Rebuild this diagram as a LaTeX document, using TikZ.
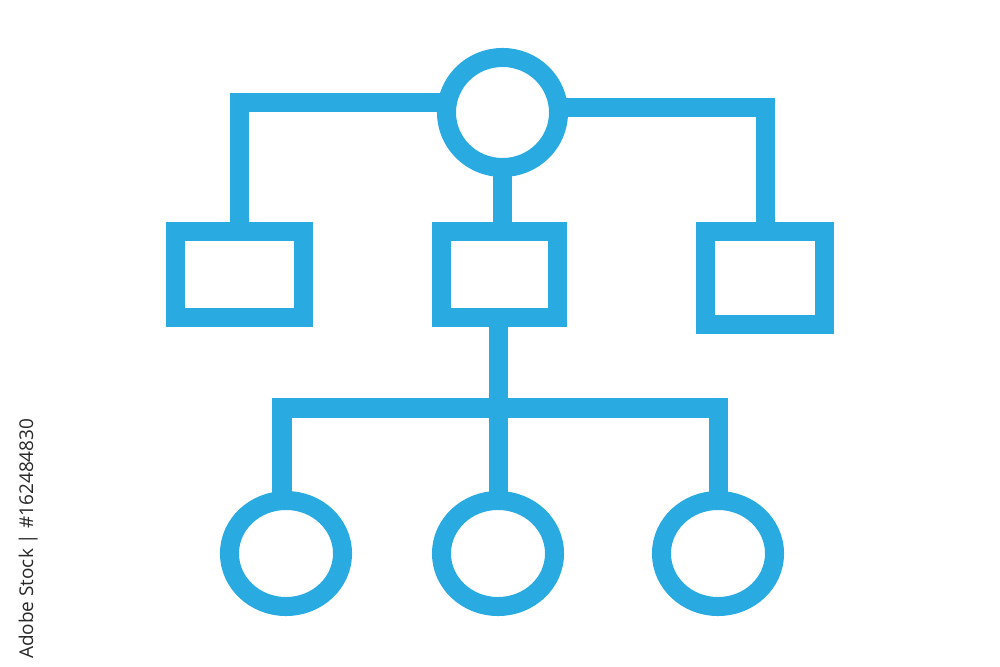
\documentclass[tikz,border=0pt]{standalone}
\usepackage{fontspec}
\usepackage{tikz}
\usetikzlibrary{shapes.geometric}
\usepackage{xcolor}
\newfontfamily\markfont{Open Sans}
\definecolor{iconblue}{RGB}{41,170,225}
\definecolor{markgray}{RGB}{40,40,40}

\begin{document}
\begin{tikzpicture}[
    x=0.01cm, y=-0.01cm,
    hub/.style={ellipse, draw=iconblue, line width=0.19cm, inner sep=0pt, outer sep=0pt},
    unit/.style={rectangle, draw=iconblue, line width=0.19cm, inner sep=0pt, outer sep=0pt},
    link/.style={draw=iconblue, line width=0.19cm}
]
\useasboundingbox (0,0) rectangle (1000,667);

% Root
\node[hub, minimum width=1.12cm, minimum height=1.10cm] (root) at (502.5,112.5) {};

% Middle level boxes
\node[unit, minimum width=1.28cm, minimum height=0.855cm] (boxL) at (239.5,274.75) {};
\node[unit, minimum width=1.16cm, minimum height=0.855cm] (boxM) at (499.5,274.25) {};
\node[unit, minimum width=1.19cm, minimum height=0.93cm] (boxR) at (765,278) {};

% Leaves
\node[hub, minimum width=1.13cm, minimum height=1.06cm] (leafL) at (286,553.5) {};
\node[hub, minimum width=1.13cm, minimum height=1.06cm] (leafM) at (498,553.5) {};
\node[hub, minimum width=1.13cm, minimum height=1.06cm] (leafR) at (718,553.5) {};

\coordinate (bus) at (498,408);

% Connections
\draw[link] (boxL.north) |- (root.170);
\draw[link] (boxR.north) |- (root.5);
\draw[link] (root.south) -- (root.south |- boxM.north);
\draw[link] (boxM.south -| bus) -- (bus |- leafM.north);
\draw[link] ([xshift=-0.04cm]leafL.north) |- (bus) -| (leafR.north);

% Stock mark
\node[rotate=90, anchor=base east, inner sep=0pt, text=markgray,
      font=\markfont\fontsize{5.4pt}{6.5pt}\selectfont] (mark) at (33,418) {Adobe Stock | \#162484830};

\end{tikzpicture}
\end{document}
